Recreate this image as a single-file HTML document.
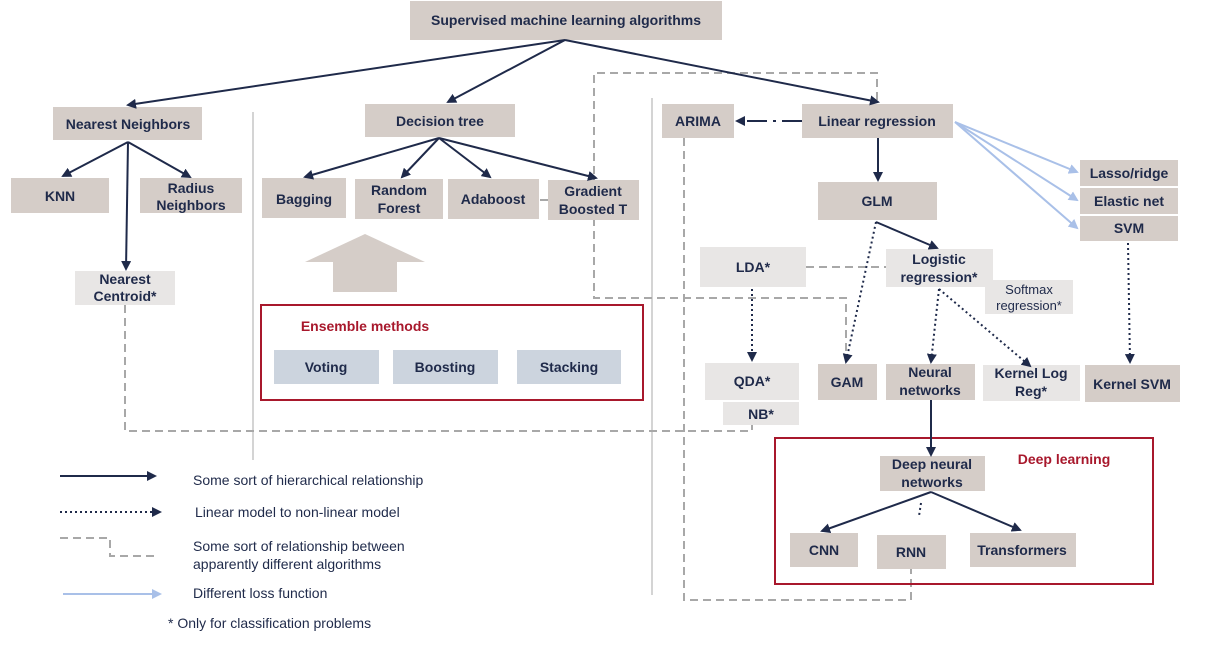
<!DOCTYPE html>
<html><head><meta charset="utf-8"><style>
html,body{margin:0;padding:0;background:#fff;}
svg{display:block;}
text{font-family:"Liberation Sans",sans-serif;font-size:14px;font-weight:bold;fill:#1f2a4a;text-anchor:middle;}
.n{font-weight:normal;text-anchor:start;font-size:14px;}
.t{fill:#d5cdc8;}
.l{fill:#e8e6e5;}
.b{fill:#ccd4de;}
.a{stroke:#1f2a4a;stroke-width:2;fill:none;}
.d{stroke:#1f2a4a;stroke-width:2;stroke-dasharray:2 3;fill:none;}
.g{stroke:#a8a8a8;stroke-width:2;stroke-dasharray:8 5;fill:none;}
.bl{stroke:#a9c0e8;stroke-width:2;fill:none;}
</style></head><body>
<svg width="1211" height="647" viewBox="0 0 1211 647" xmlns="http://www.w3.org/2000/svg">
<defs>
<marker id="m" markerWidth="10" markerHeight="10" refX="8" refY="5" orient="auto" markerUnits="userSpaceOnUse"><path d="M0,0 L10,5 L0,10 z" fill="#1f2a4a"/></marker>
<marker id="mb" markerWidth="10" markerHeight="10" refX="8" refY="5" orient="auto" markerUnits="userSpaceOnUse"><path d="M0,0 L10,5 L0,10 z" fill="#a9c0e8"/></marker>
</defs>
<!-- separators -->
<line x1="253" y1="112" x2="253" y2="460" stroke="#aaa" stroke-width="1"/>
<line x1="652" y1="98" x2="652" y2="595" stroke="#aaa" stroke-width="1"/>
<!-- dashed relations -->
<path class="g" d="M877,100 V73 H594 V298 H846 V360"/>
<path class="g" d="M540,200 H548"/>
<path class="g" d="M806,267 H886"/>
<path class="g" d="M125,305 V431 H752 V425"/>
<path class="g" d="M684,138 V600 H911 V569"/>
<!-- boxes -->
<rect class="t" x="410" y="1" width="312" height="39"/>
<rect class="t" x="53" y="107" width="149" height="33"/>
<rect class="t" x="11" y="178" width="98" height="35"/>
<rect class="t" x="140" y="178" width="102" height="35"/>
<rect class="l" x="75" y="271" width="100" height="34"/>
<rect class="t" x="365" y="104" width="150" height="33"/>
<rect class="t" x="262" y="178" width="84" height="40"/>
<rect class="t" x="355" y="179" width="88" height="40"/>
<rect class="t" x="448" y="179" width="91" height="40"/>
<rect class="t" x="548" y="180" width="91" height="40"/>
<path class="t" d="M305,262 L365,234 L425,262 H397 V292 H333 V262 Z"/>
<rect x="261" y="305" width="382" height="95" fill="none" stroke="#a8182c" stroke-width="2"/>
<rect class="b" x="274" y="350" width="105" height="34"/>
<rect class="b" x="393" y="350" width="105" height="34"/>
<rect class="b" x="517" y="350" width="104" height="34"/>
<rect class="t" x="662" y="104" width="72" height="34"/>
<rect class="t" x="802" y="104" width="151" height="34"/>
<rect class="t" x="818" y="182" width="119" height="38"/>
<rect class="t" x="1080" y="160" width="98" height="26"/>
<rect class="t" x="1080" y="188" width="98" height="26"/>
<rect class="t" x="1080" y="216" width="98" height="25"/>
<rect class="l" x="700" y="247" width="106" height="40"/>
<rect class="l" x="886" y="249" width="107" height="38"/>
<rect class="l" x="985" y="280" width="88" height="34"/>
<rect class="l" x="705" y="363" width="94" height="37"/>
<rect class="l" x="723" y="402" width="76" height="23"/>
<rect class="t" x="818" y="364" width="59" height="36"/>
<rect class="t" x="886" y="364" width="89" height="36"/>
<rect class="l" x="983" y="365" width="97" height="36"/>
<rect class="t" x="1085" y="365" width="95" height="37"/>
<rect x="775" y="438" width="378" height="146" fill="none" stroke="#a8182c" stroke-width="2"/>
<rect class="t" x="880" y="456" width="105" height="35"/>
<rect class="t" x="790" y="533" width="68" height="34"/>
<rect class="t" x="877" y="535" width="69" height="34"/>
<rect class="t" x="970" y="533" width="106" height="34"/>
<!-- solid arrows -->
<path class="a" marker-end="url(#m)" d="M565,40 L128,105"/>
<path class="a" marker-end="url(#m)" d="M565,40 L448,102"/>
<path class="a" marker-end="url(#m)" d="M565,40 L878,102"/>
<path class="a" marker-end="url(#m)" d="M128,142 L63,176"/>
<path class="a" marker-end="url(#m)" d="M128,142 L190,177"/>
<path class="a" marker-end="url(#m)" d="M128,142 L126,269"/>
<path class="a" marker-end="url(#m)" d="M439,138 L305,177"/>
<path class="a" marker-end="url(#m)" d="M439,138 L402,177"/>
<path class="a" marker-end="url(#m)" d="M439,138 L490,177"/>
<path class="a" marker-end="url(#m)" d="M439,138 L596,178"/>
<path class="a" marker-end="url(#m)" d="M878,138 L878,180"/>
<path class="a" marker-end="url(#m)" d="M876,222 L937,248"/>
<path class="a" marker-end="url(#m)" d="M931,400 L931,455"/>
<path class="a" marker-end="url(#m)" d="M931,492 L822,531"/>
<path class="a" marker-end="url(#m)" d="M931,492 L1020,530"/>
<path class="d" d="M921,503 L919,516"/>
<path class="a" stroke-dasharray="20 6 3 6" marker-end="url(#m)" d="M802,121 L737,121"/>
<!-- blue -->
<path class="bl" marker-end="url(#mb)" d="M955,122 L1077,172"/>
<path class="bl" marker-end="url(#mb)" d="M955,122 L1077,200"/>
<path class="bl" marker-end="url(#mb)" d="M955,122 L1077,228"/>
<!-- dotted -->
<path class="d" marker-end="url(#m)" d="M876,222 L846,362"/>
<path class="d" marker-end="url(#m)" d="M752,289 L752,360"/>
<path class="d" marker-end="url(#m)" d="M939,289 L931,362"/>
<path class="d" marker-end="url(#m)" d="M939,289 L1030,366"/>
<path class="d" marker-end="url(#m)" d="M1128,243 L1130,362"/>
<!-- labels -->
<text x="566" y="25">Supervised machine learning algorithms</text>
<text x="128" y="129">Nearest Neighbors</text>
<text x="60" y="201">KNN</text>
<text x="191" y="193">Radius</text><text x="191" y="210">Neighbors</text>
<text x="125" y="284">Nearest</text><text x="125" y="301">Centroid*</text>
<text x="440" y="126">Decision tree</text>
<text x="304" y="204">Bagging</text>
<text x="399" y="195">Random</text><text x="399" y="213">Forest</text>
<text x="493" y="204">Adaboost</text>
<text x="593" y="196">Gradient</text><text x="593" y="214">Boosted T</text>
<text x="365" y="331" style="fill:#a8182c">Ensemble methods</text>
<text x="326" y="372">Voting</text>
<text x="445" y="372">Boosting</text>
<text x="569" y="372">Stacking</text>
<text x="698" y="126">ARIMA</text>
<text x="877" y="126">Linear regression</text>
<text x="877" y="206">GLM</text>
<text x="1129" y="178">Lasso/ridge</text>
<text x="1129" y="206">Elastic net</text>
<text x="1129" y="233">SVM</text>
<text x="753" y="272">LDA*</text>
<text x="939" y="264">Logistic</text><text x="939" y="282">regression*</text>
<text x="1029" y="294" style="font-weight:normal;font-size:13px">Softmax</text><text x="1029" y="310" style="font-weight:normal;font-size:13px">regression*</text>
<text x="752" y="386">QDA*</text>
<text x="761" y="419">NB*</text>
<text x="847" y="387">GAM</text>
<text x="930" y="377">Neural</text><text x="930" y="395">networks</text>
<text x="1031" y="378">Kernel Log</text><text x="1031" y="396">Reg*</text>
<text x="1132" y="389">Kernel SVM</text>
<text x="1064" y="464" style="fill:#a8182c">Deep learning</text>
<text x="932" y="469">Deep neural</text><text x="932" y="487">networks</text>
<text x="824" y="555">CNN</text>
<text x="911" y="557">RNN</text>
<text x="1022" y="555">Transformers</text>
<!-- legend -->
<path class="a" marker-end="url(#m)" d="M60,476 L155,476"/>
<text class="n" x="193" y="485">Some sort of hierarchical relationship</text>
<path class="d" marker-end="url(#m)" d="M60,512 L160,512"/>
<text class="n" x="195" y="517">Linear model to non-linear model</text>
<path class="g" d="M60,538 H110 V556 H155"/>
<text class="n" x="193" y="551">Some sort of relationship between</text>
<text class="n" x="193" y="569">apparently different algorithms</text>
<path class="bl" marker-end="url(#mb)" d="M63,594 L160,594"/>
<text class="n" x="193" y="598">Different loss function</text>
<text class="n" x="168" y="628">* Only for classification problems</text>
</svg>
</body></html>
